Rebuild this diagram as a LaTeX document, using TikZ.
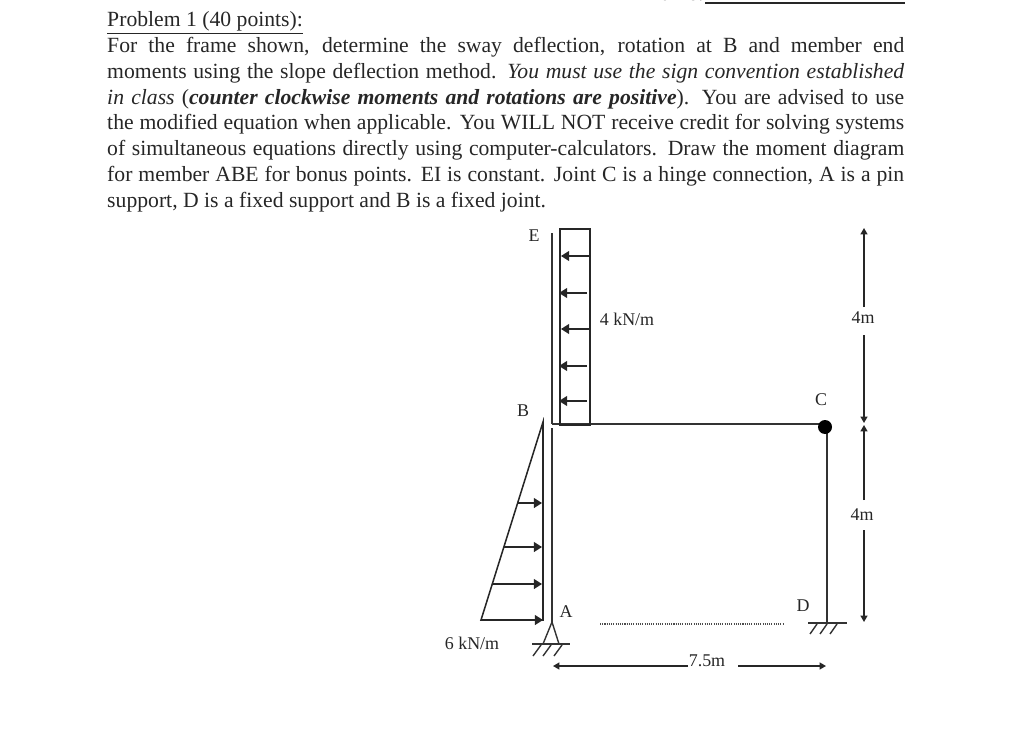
\documentclass[tikz,border=0pt]{standalone}
\usepackage{fontspec}
\setmainfont{Liberation Serif}
\usetikzlibrary{arrows.meta}
\tikzset{
    memberline/.style={line width=1.2pt,black!80},
    loadline/.style={line width=1.3pt,black!85},
    loadarrow/.style={line width=1.3pt,black!85,-{Triangle[length=7pt,width=8.5pt]}},
    dimarrow/.style={line width=1.2pt,black!85,-{Triangle[length=5.5pt,width=6pt]}},
    lbl/.style={inner sep=0pt,font=\fontsize{15.3}{17}\selectfont,text=black!85},
}
\begin{document}
\begin{tikzpicture}[x=0.03cm,y=-0.03cm]
    \useasboundingbox (0,0) rectangle (1014,737);
    \clip (0,0) rectangle (1014,737);
    %% problem text
    \node[anchor=north west,inner sep=0pt,text width=23.91cm,align=justify,text=black!85,
        font=\fontsize{18.5}{22}\selectfont] (problem) at (107,11.5) {\underline{Problem 1 (40 points):}\\
        For the frame shown, determine the sway deflection, rotation at B and member end\linebreak
        moments using the slope deflection method. \textit{You must use the sign convention established}\linebreak
        \textit{in class} (\textbf{\textit{counter clockwise moments and rotations are positive}}). You are advised to use\linebreak
        the modified equation when applicable. You WILL NOT receive credit for solving systems\linebreak
        of simultaneous equations directly using computer-calculators. Draw the moment diagram\linebreak
        for member ABE for bonus points. EI is constant. Joint C is a hinge connection, A is a pin\linebreak
        support, D is a fixed support and B is a fixed joint.};
    \node[anchor=base east,inner sep=0pt,text=black!85,font=\fontsize{18.5}{22}\selectfont] (name) at (704,1) {Name:};
    \coordinate (nameL) at (705,3);
    \coordinate (nameR) at (905,3);
    \draw[line width=1.5pt,black!85] (nameL) -- (nameR);
    %% joints
    \coordinate (E) at (552,233);
    \coordinate (Bt) at (552,424);
    \coordinate (Bb) at (552,428);
    \coordinate (A) at (552,622);
    \coordinate (C) at (825,424);
    \coordinate (Cb) at (827,427);
    \coordinate (D) at (827,623);
    %% frame
    \draw[memberline] (E) -- (Bt);
    \draw[memberline] (Bb) -- (A);
    \draw[memberline] (Bt) -- (C);
    \draw[memberline] (Cb) -- (D);
    \node[circle,fill=black,inner sep=0pt,minimum size=0.42cm] (hinge) at (825,427) {};
    %% uniform load on BE
    \node[draw=black!85,line width=1.3pt,anchor=north west,inner sep=0pt,minimum width=0.9cm,minimum height=5.88cm] (uload) at (559,228) {};
    \coordinate (u1a) at (589,256); \coordinate (u1b) at (561,256);
    \coordinate (u2a) at (587,293); \coordinate (u2b) at (559,293);
    \coordinate (u3a) at (589,329); \coordinate (u3b) at (561,329);
    \coordinate (u4a) at (587,366); \coordinate (u4b) at (559,366);
    \coordinate (u5a) at (587,401); \coordinate (u5b) at (559,401);
    \draw[loadarrow] (u1a) -- (u1b);
    \draw[loadarrow] (u2a) -- (u2b);
    \draw[loadarrow] (u3a) -- (u3b);
    \draw[loadarrow] (u4a) -- (u4b);
    \draw[loadarrow] (u5a) -- (u5b);
    %% triangular load on AB
    \coordinate (tTop) at (543,422);
    \coordinate (tBot) at (543,620);
    \coordinate (tLeft) at (481,620);
    \draw[loadline] (tTop) -- (tBot) -- (tLeft) -- cycle;
    \coordinate (t1a) at (517,503); \coordinate (t1b) at (542,503);
    \coordinate (t2a) at (504,547); \coordinate (t2b) at (542,547);
    \coordinate (t3a) at (492,584); \coordinate (t3b) at (542,584);
    \draw[loadarrow] (t1a) -- (t1b);
    \draw[loadarrow] (t2a) -- (t2b);
    \draw[loadarrow] (t3a) -- (t3b);
    \draw[loadarrow] (tLeft) -- (tBot);
    %% pin support at A
    \draw[memberline] (A) -- (543,644) -- (559,644) -- cycle;
    \draw[memberline] (532,644) -- (570,644);
    \draw[memberline] (533,656) -- (541,645);
    \draw[memberline] (543,656) -- (551,645);
    \draw[memberline] (554,656) -- (562,645);
    %% fixed support at D
    \draw[memberline] (808,623) -- (847,623);
    \draw[memberline] (810,634) -- (817,624);
    \draw[memberline] (820,634) -- (827,624);
    \draw[memberline] (830,634) -- (837,624);
    %% dotted line
    \draw[black!70,line width=0.9pt,densely dotted] (600,624) -- (784,624);
    %% 7.5m dimension
    \node[lbl] (spanlbl) at (707,661) {7.5m};
    \coordinate (spanL) at (553,666);
    \coordinate (spanLe) at (688,666);
    \coordinate (spanRs) at (738,666);
    \coordinate (spanR) at (826,666);
    \draw[dimarrow] (spanLe) -- (spanL);
    \draw[dimarrow] (spanRs) -- (spanR);
    %% 4m dimensions
    \node[lbl] (upperlbl) at (863,317.5) {4m};
    \node[lbl] (lowerlbl) at (862,514.5) {4m};
    \coordinate (ua) at (864,307); \coordinate (ub) at (864,228);
    \coordinate (uc) at (864,335); \coordinate (ud) at (864,423);
    \coordinate (la) at (864,500); \coordinate (lb) at (864,425);
    \coordinate (lc) at (864,530); \coordinate (ld) at (864,622);
    \draw[dimarrow] (ua) -- (ub);
    \draw[dimarrow] (uc) -- (ud);
    \draw[dimarrow] (la) -- (lb);
    \draw[dimarrow] (lc) -- (ld);
    %% labels
    \node[lbl] (Elbl) at (534,236) {E};
    \node[lbl] (Blbl) at (523,411) {B};
    \node[lbl] (Clbl) at (821,400) {C};
    \node[lbl] (Albl) at (566,612) {A};
    \node[lbl] (Dlbl) at (803,606) {D};
    \node[lbl] (uniformlbl) at (627,319) {4 kN/m};
    \node[lbl] (trianglbl) at (472,643) {6 kN/m};
\end{tikzpicture}
\end{document}
